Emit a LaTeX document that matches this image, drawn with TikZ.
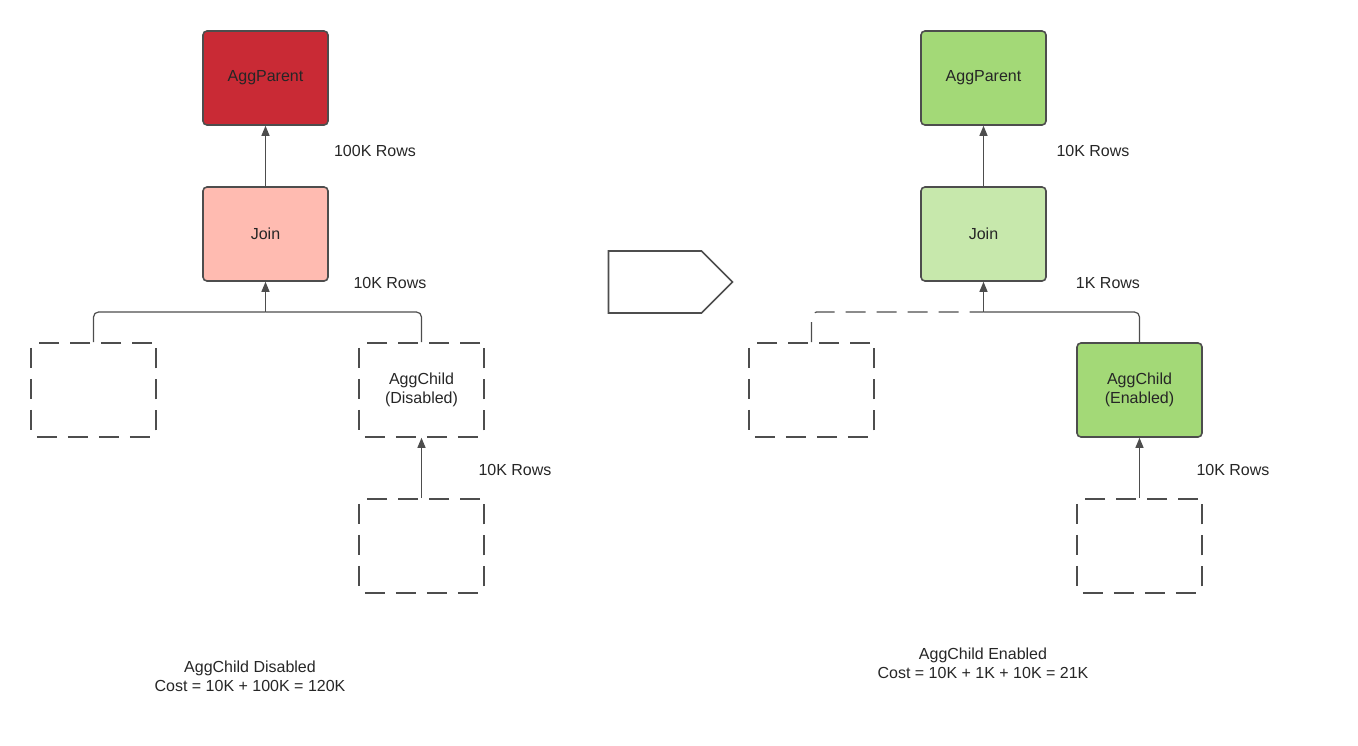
\documentclass[tikz,border=0pt]{standalone}
\usepackage{fontspec}
\setmainfont{Liberation Sans}
\usetikzlibrary{arrows.meta,shapes.arrows}
\definecolor{aggred}{HTML}{C92A35}
\definecolor{joinpink}{HTML}{FFBBB1}
\definecolor{agggreen}{HTML}{A3D977}
\definecolor{joingreen}{HTML}{C7E8AC}
\definecolor{edge}{HTML}{4D4D4D}
\begin{document}
\begin{tikzpicture}[x=1pt,y=-1pt,
    font=\fontsize{16}{19}\selectfont, text=black!85,
    box/.style={draw=edge, line width=1.6pt, rounded corners=4pt, minimum width=125pt, minimum height=94pt, align=center, inner sep=0pt},
    ghost/.style={box, dash pattern=on 20pt off 11pt},
    link/.style={draw=edge, line width=1.2pt, rounded corners=5pt},
    up/.style={link, -{Triangle[length=10pt,width=8pt]}},
    lbl/.style={anchor=center}
]
\useasboundingbox (0,0) rectangle (1358,745);
% left plan
\node[box, fill=aggred] (lp) at (265.5,78) {AggParent};
\node[box, fill=joinpink] (lj) at (265.5,234) {Join};
\node[ghost] (lg) at (93.5,390) {};
\node[ghost] (lc) at (421.5,390) {AggChild\\(Disabled)};
\node[ghost] (ls) at (421.5,546) {};
\draw[up] (lj) -- (lp);
\coordinate (lbus) at (265.5,312);
\draw[link] (lg.north) |- (lbus);
\draw[link] (lc.north) |- (lbus);
\draw[up] (lbus) -- (lj.south);
\draw[up] (ls) -- (lc);
\node[lbl] (l1) at (375,151) {100K Rows};
\node[lbl] (l2) at (390,283) {10K Rows};
\node[lbl] (l3) at (515,470) {10K Rows};
\node[align=center] (lcap) at (250,676) {AggChild Disabled\\Cost = 10K + 100K = 120K};
% transform arrow
\node[single arrow, draw=edge, line width=1.6pt, fill=white, minimum height=124pt, minimum width=62pt, single arrow head extend=0pt, single arrow tip angle=90, inner sep=0pt, shape border uses incircle=false] (ar) at (655,282) {};
% right plan
\node[box, fill=agggreen] (rp) at (983.5,78) {AggParent};
\node[box, fill=joingreen] (rj) at (983.5,234) {Join};
\node[ghost] (rg) at (811.5,390) {};
\node[box, fill=agggreen] (rc) at (1139.5,390) {AggChild\\(Enabled)};
\node[ghost] (rs) at (1139.5,546) {};
\draw[up] (rj) -- (rp);
\coordinate (rbus) at (983.5,312);
\draw[link, dash pattern=on 20pt off 11pt] (rg.north) |- (rbus);
\draw[link] (rc.north) |- (rbus);
\draw[up] (rbus) -- (rj.south);
\draw[up] (rs) -- (rc);
\node[lbl] (r1) at (1093,151) {10K Rows};
\node[lbl] (r2) at (1108,283) {1K Rows};
\node[lbl] (r3) at (1233,470) {10K Rows};
\node[align=center] (rcap) at (983,663) {AggChild Enabled\\Cost = 10K + 1K + 10K = 21K};
\end{tikzpicture}
\end{document}
